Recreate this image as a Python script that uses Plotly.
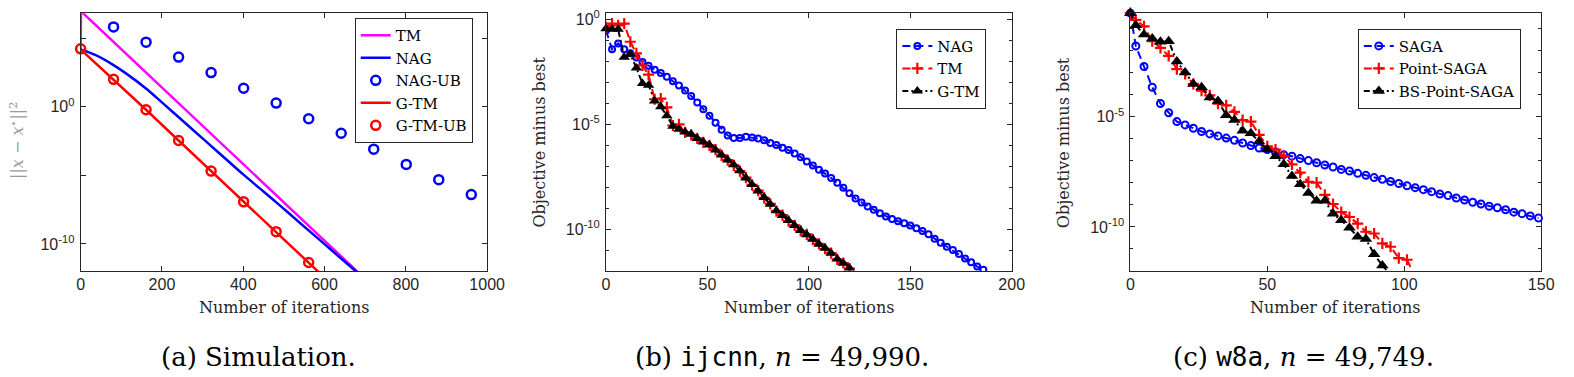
import plotly.graph_objects as go

# ---------------- data (values are log10 of the plotted quantity) ----------------
# Panel (a): Simulation
a_tm_iter = [0, 1, 700]
a_tm_log10 = [4.18, 6.96, -12.55]
a_nag_iter = [0, 40, 80, 120, 160, 200, 240, 280, 320, 360, 400, 440, 480, 520, 560, 600, 640, 680, 720]
a_nag_log10 = [4.18, 3.72, 3.05, 2.25, 1.35, 0.32, -0.73, -1.78, -2.83, -3.88, -4.93, -5.93,
               -6.93, -7.96, -8.99, -10.01, -11.04, -12.07, -13.1]
a_gtm_iter = [0, 81, 161, 241, 321, 401, 481, 561, 600]
a_gtm_log10 = [4.18, 2.0, -0.22, -2.46, -4.69, -6.93, -9.1, -11.35, -12.45]
a_nagub_iter = [0, 81, 161, 241, 321, 401, 481, 561, 641, 721, 801, 881, 961]
a_nagub_log10 = [6.85, 5.82, 4.71, 3.62, 2.49, 1.35, 0.27, -0.87, -1.93, -3.09, -4.2, -5.31, -6.4]
a_gtmub_iter = [0, 81, 161, 241, 321, 401, 481, 561]
a_gtmub_log10 = [4.22, 2.0, -0.22, -2.46, -4.69, -6.93, -9.1, -11.35]

# Panel (b): ijcnn
b_iter_nag = list(range(0, 187, 3))
b_nag_log10 = [-0.52, -1.42, -1.14, -1.42, -1.61, -1.81, -2.03, -2.2, -2.39, -2.55,
               -2.73, -2.94, -3.14, -3.38, -3.64, -3.95, -4.27, -4.58, -4.92, -5.25,
               -5.52, -5.64, -5.64, -5.59, -5.62, -5.67, -5.75, -5.88, -5.98, -6.11,
               -6.22, -6.38, -6.56, -6.77, -6.95, -7.16, -7.34, -7.55, -7.78, -8.02,
               -8.28, -8.53, -8.72, -8.91, -9.06, -9.23, -9.38, -9.5, -9.61, -9.7,
               -9.81, -9.94, -10.08, -10.23, -10.44, -10.63, -10.83, -10.98, -11.17, -11.38,
               -11.56, -11.77, -11.92]
b_iter_tm = list(range(0, 121, 3))
b_tm_log10 = [-0.36, -0.2, -0.28, -0.2, -1.06, -1.61, -2.19, -2.63, -3.8, -3.77,
              -4.19, -5.05, -5.0, -5.38, -5.5, -5.66, -5.85, -6.0, -6.2, -6.47,
              -6.7, -6.95, -7.22, -7.53, -7.88, -8.15, -8.5, -8.78, -9.13, -9.32,
              -9.6, -9.8, -10.07, -10.24, -10.49, -10.69, -10.92, -11.13, -11.43, -11.6,
              -11.86]
b_gtm_log10 = [-0.44, -0.47, -0.47, -1.8, -1.66, -2.31, -3.05, -3.13, -3.88, -4.16,
               -4.58, -5.09, -5.23, -5.36, -5.47, -5.67, -5.83, -5.98, -6.22, -6.45,
               -6.69, -6.92, -7.2, -7.55, -7.86, -8.17, -8.48, -8.8, -9.11, -9.34,
               -9.58, -9.81, -10.05, -10.25, -10.47, -10.7, -10.9, -11.14, -11.41, -11.61,
               -11.84]

# Panel (c): w8a
c_iter_saga = [0] + list(range(2, 150, 3))
c_saga_log10 = [-0.3, -1.79, -2.72, -3.66, -4.4, -4.82, -5.22, -5.37, -5.52, -5.67,
                -5.78, -5.87, -5.97, -6.07, -6.19, -6.31, -6.42, -6.49, -6.6, -6.72,
                -6.79, -6.9, -6.99, -7.09, -7.19, -7.28, -7.39, -7.46, -7.57, -7.66,
                -7.76, -7.84, -7.94, -8.03, -8.13, -8.22, -8.31, -8.4, -8.51, -8.58,
                -8.69, -8.78, -8.88, -8.96, -9.06, -9.13, -9.22, -9.33, -9.4, -9.5,
                -9.6]
c_iter_ps = [0] + list(range(2, 102, 3))
c_ps_log10 = [-0.3, -0.6, -0.9, -1.57, -1.87, -2.24, -2.84, -3.06, -3.51, -3.81,
              -4.03, -4.4, -4.48, -4.78, -5.15, -5.22, -5.82, -6.34, -6.49, -6.79,
              -7.16, -7.54, -7.96, -7.99, -8.55, -8.96, -9.33, -9.55, -9.85, -10.22,
              -10.3, -10.75, -10.9, -11.42, -11.49]
c_ps_tail_iter = [101, 104]
c_ps_tail_log10 = [-11.49, -12.27]
c_iter_bs = [0] + list(range(2, 93, 3))
c_bs_log10 = [-0.3, -0.85, -1.27, -1.45, -1.6, -1.57, -2.49, -2.99, -3.51, -3.66,
              -4.13, -4.28, -4.93, -5.15, -5.64, -5.75, -6.12, -6.49, -6.79, -7.16,
              -7.69, -8.06, -8.46, -8.81, -8.81, -9.4, -9.7, -10.04, -10.45, -10.55,
              -11.24, -11.75]
c_bs_tail_iter = [92, 96]
c_bs_tail_log10 = [-11.75, -12.3]


def v(lst):
    return [10 ** e for e in lst]


W, H = 1574, 377
BLUE, RED, MAG, BLK = '#0000ff', '#ff0000', '#ff00ff', '#000000'
AXC = '#262626'
SERIF = 'DejaVu Serif'
SANS = 'Liberation Sans, Arial, sans-serif'
DASH = '8px,5px'
DASHDOT = '6px,3px,2px,3px'

fig = go.Figure()

# ---- panel (a)
fig.add_trace(go.Scatter(x=a_tm_iter, y=v(a_tm_log10), mode='lines', name='TM',
                         line=dict(color=MAG, width=2.5), xaxis='x', yaxis='y', legend='legend'))
fig.add_trace(go.Scatter(x=a_nag_iter, y=v(a_nag_log10), mode='lines', name='NAG',
                         line=dict(color=BLUE, width=2.5, shape='spline'), xaxis='x', yaxis='y', legend='legend'))
fig.add_trace(go.Scatter(x=a_nagub_iter, y=v(a_nagub_log10), mode='markers', name='NAG-UB',
                         marker=dict(symbol='circle-open', size=9, color=BLUE, line=dict(width=2.5, color=BLUE)),
                         cliponaxis=False, xaxis='x', yaxis='y', legend='legend'))
fig.add_trace(go.Scatter(x=a_gtm_iter, y=v(a_gtm_log10), mode='lines', name='G-TM',
                         line=dict(color=RED, width=2.5), xaxis='x', yaxis='y', legend='legend'))
fig.add_trace(go.Scatter(x=a_gtmub_iter, y=v(a_gtmub_log10), mode='markers', name='G-TM-UB',
                         marker=dict(symbol='circle-open', size=9, color=RED, line=dict(width=2.5, color=RED)),
                         cliponaxis=False, xaxis='x', yaxis='y', legend='legend'))

# ---- panel (b)
fig.add_trace(go.Scatter(x=b_iter_nag, y=v(b_nag_log10), mode='lines+markers', name='NAG',
                         line=dict(color=BLUE, width=2, dash=DASH),
                         marker=dict(symbol='circle-open', size=6, color=BLUE, line=dict(width=2, color=BLUE)),
                         xaxis='x2', yaxis='y2', legend='legend2'))
fig.add_trace(go.Scatter(x=b_iter_tm, y=v(b_tm_log10), mode='lines+markers', name='TM',
                         line=dict(color=RED, width=2, dash=DASH),
                         marker=dict(symbol='cross-thin-open', size=8, color=RED, line=dict(width=2.2, color=RED)),
                         xaxis='x2', yaxis='y2', legend='legend2'))
fig.add_trace(go.Scatter(x=b_iter_tm, y=v(b_gtm_log10), mode='lines+markers', name='G-TM',
                         line=dict(color=BLK, width=2, dash=DASHDOT),
                         marker=dict(symbol='triangle-up', size=10, color=BLK),
                         cliponaxis=False, xaxis='x2', yaxis='y2', legend='legend2'))

# ---- panel (c)
fig.add_trace(go.Scatter(x=c_iter_saga, y=v(c_saga_log10), mode='lines+markers', name='SAGA',
                         line=dict(color=BLUE, width=2, dash=DASH),
                         marker=dict(symbol='circle-open', size=7, color=BLUE, line=dict(width=2, color=BLUE)),
                         cliponaxis=False, xaxis='x3', yaxis='y3', legend='legend3'))
fig.add_trace(go.Scatter(x=c_iter_ps, y=v(c_ps_log10), mode='lines+markers', name='Point-SAGA',
                         line=dict(color=RED, width=2, dash=DASH),
                         marker=dict(symbol='cross-thin-open', size=8, color=RED, line=dict(width=2.2, color=RED)),
                         cliponaxis=False, xaxis='x3', yaxis='y3', legend='legend3'))
fig.add_trace(go.Scatter(x=c_ps_tail_iter, y=v(c_ps_tail_log10), mode='lines', showlegend=False,
                         line=dict(color=RED, width=2, dash=DASH), xaxis='x3', yaxis='y3'))
fig.add_trace(go.Scatter(x=c_iter_bs, y=v(c_bs_log10), mode='lines+markers', name='BS-Point-SAGA',
                         line=dict(color=BLK, width=2, dash=DASHDOT),
                         marker=dict(symbol='triangle-up', size=11, color=BLK),
                         cliponaxis=False, xaxis='x3', yaxis='y3', legend='legend3'))
fig.add_trace(go.Scatter(x=c_bs_tail_iter, y=v(c_bs_tail_log10), mode='lines', showlegend=False,
                         line=dict(color=BLK, width=2, dash=DASHDOT), xaxis='x3', yaxis='y3'))

# ---------------- layout ----------------
ydom = [1 - 270 / H, 1 - 8.3 / H]
ax = dict(showline=True, linecolor=AXC, linewidth=1, mirror='ticks', ticks='inside', ticklen=5,
          tickcolor=AXC, tickwidth=1, showgrid=False, zeroline=False,
          tickfont=dict(family=SANS, size=16, color=AXC))
xax = dict(ax, ticklabelstandoff=-2)
yax = dict(ax, ticklabelstandoff=2)

decades = [10 ** (-k) for k in range(0, 13)]
minor = dict(tickvals=decades, ticks='inside', ticklen=3, tickcolor=AXC, showgrid=False)
minor_a = dict(tickvals=[1e5, 1e-5], ticks='inside', ticklen=5, tickcolor=AXC, showgrid=False)

fig.update_layout(
    width=W, height=H, margin=dict(l=0, r=0, t=0, b=0, pad=0),
    paper_bgcolor='white', plot_bgcolor='white',
    xaxis=dict(xax, domain=[77.7 / W, 490 / W], range=[0, 1000], tickvals=[0, 200, 400, 600, 800, 1000], anchor='y'),
    yaxis=dict(yax, domain=ydom, type='log', range=[-12, 6.82], anchor='x',
               tickvals=[1, 1e-10], ticktext=['10<sup>0</sup>', '10<sup>-10</sup>'], minor=minor_a),
    xaxis2=dict(xax, domain=[610.5 / W, 1022 / W], range=[0, 200], tickvals=[0, 50, 100, 150, 200], anchor='y2'),
    yaxis2=dict(yax, domain=ydom, type='log', range=[-12, 0.3], anchor='x2',
                tickvals=[1, 1e-5, 1e-10], ticktext=['10<sup>0</sup>', '10<sup>-5</sup>', '10<sup>-10</sup>'],
                minor=minor),
    xaxis3=dict(xax, domain=[1142.3 / W, 1559 / W], range=[0, 150], tickvals=[0, 50, 100, 150], anchor='y3'),
    yaxis3=dict(yax, domain=ydom, type='log', range=[-12.02, -0.3], anchor='x3',
                tickvals=[1e-5, 1e-10], ticktext=['10<sup>-5</sup>', '10<sup>-10</sup>'],
                minor=minor),
    legend=dict(x=355.7 / W, y=1 - 13.3 / H, xanchor='left', yanchor='top',
                bgcolor='white', bordercolor=AXC, borderwidth=1,
                font=dict(family=SERIF, size=15, color='#000000')),
    legend2=dict(x=905 / W, y=1 - 24 / H, xanchor='left', yanchor='top',
                 bgcolor='white', bordercolor=AXC, borderwidth=1,
                 font=dict(family=SERIF, size=15, color='#000000')),
    legend3=dict(x=1373 / W, y=1 - 24 / H, xanchor='left', yanchor='top',
                 bgcolor='white', bordercolor=AXC, borderwidth=1,
                 font=dict(family=SERIF, size=15, color='#000000')),
)

annots = []


def ann(text, xp, yp, size, color='#000000', angle=0):
    annots.append(dict(text=text, x=xp / W, y=1 - yp / H, xref='paper', yref='paper',
                       showarrow=False, xanchor='center', yanchor='middle', textangle=angle,
                       font=dict(family=SERIF, size=size, color=color)))


# axis titles
ann('Number of iterations', 284, 307, 16, AXC)
ann('Number of iterations', 816, 307, 16, AXC)
ann('Number of iterations', 1350, 307, 16, AXC)
ann('||<i>x</i> − <i>x</i><sup>⋆</sup>||<sup>2</sup>', 13, 137, 16, '#9a9a9a', -90)
ann('Objective minus best', 543, 139, 16, AXC, -90)
ann('Objective minus best', 1074, 139, 16, AXC, -90)
# captions
ann('(a) Simulation.', 258, 357, 26)
ann('(b) <span style="font-family:DejaVu Sans Mono">ijcnn</span>, <i>n</i> = 49,990.', 789, 357, 26)
ann('(c) <span style="font-family:DejaVu Sans Mono">w8a</span>, <i>n</i> = 49,749.', 1318, 357, 26)

fig.update_layout(annotations=annots)

fig.write_html('out.html', config={'displayModeBar': False},
               post_script="document.body.style.margin='0px';document.body.style.overflow='hidden';")
